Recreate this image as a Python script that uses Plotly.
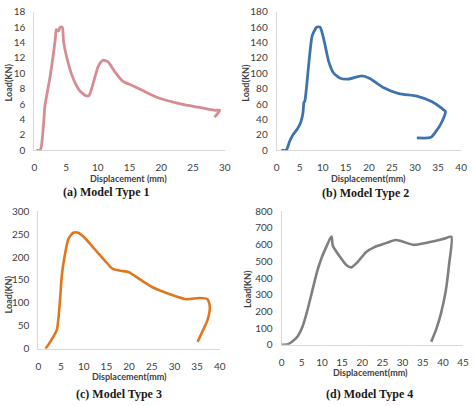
import plotly.graph_objects as go

# ---- data ----
a_x = [0.3, 0.9, 1.1, 1.3, 1.5, 1.65, 2.5, 3.3, 3.45, 3.8, 4.07, 4.4, 4.6, 5.1, 5.9, 7.1, 8.1, 8.6, 9.3, 10.1, 10.8, 11.6, 12.6, 13.9, 15.5, 17.0, 19.6, 23.2, 25.8, 28.4, 29.2, 29.0, 28.6, 28.4]
a_y = [0, 0, 0.5, 2, 4, 5.7, 9.7, 14.5, 15.7, 15.5, 16.0, 16.0, 14.1, 12.1, 9.8, 7.8, 7.1, 7.1, 8.8, 11.0, 11.7, 11.5, 10.3, 9.0, 8.4, 7.8, 6.8, 6.0, 5.6, 5.2, 5.2, 4.9, 4.5, 4.3]

b_x = [1.0, 2.06, 2.77, 3.47, 4.5, 5.2, 5.7, 5.9, 6.1, 7.0, 7.7, 8.66, 9.4, 10.2, 11.3, 12.3, 13.8, 15.5, 18.4, 20.1, 23.0, 26.5, 30.4, 33.6, 35.7, 36.6, 36.4, 35.4, 33.6, 32.8, 30.4]
b_y = [0, 0, 11, 19.6, 27.9, 36, 48.7, 62, 64, 115, 149, 160, 160, 144.6, 115, 100.8, 93.7, 92.5, 96.7, 93.7, 82, 73.7, 70.4, 63.3, 55, 50, 45, 32, 17.5, 16, 16]

c_x = [1.58, 2.3, 3.2, 4.1, 4.47, 4.83, 5.19, 5.77, 6.6, 7.7, 8.8, 10.2, 12.4, 14.6, 16.4, 18.2, 19.96, 22.5, 25.4, 29.0, 32.6, 35.5, 37.3, 37.8, 37.3, 36.2, 35.1]
c_y = [0, 10, 24, 41.5, 70, 112, 161, 200, 239, 253, 253, 242, 217.6, 193, 174, 170, 167, 150.7, 133, 119, 108, 110.6, 108, 91, 62.7, 38, 14.8]

d_x = [0, 1.6, 2.8, 4.0, 5.2, 6.4, 7.6, 8.8, 10.0, 11.2, 12.0, 12.4, 12.7, 14.5, 16.1, 17.3, 18.9, 20.9, 22.9, 25.9, 28.2, 29.8, 32.6, 33.8, 37.1, 40.3, 42.1, 41.5, 40.7, 39.5, 38.3, 37.1]
d_y = [0, 4, 23, 52, 110, 207, 323, 439, 526, 593, 636, 648, 593, 526, 477, 464, 497, 555, 584, 609, 628, 620, 599, 601, 617, 636, 647, 477, 323, 187, 91, 19]

titles = ["(a) Model Type 1", "(b) Model Type 2", "(c) Model Type 3", "(d) Model Type 4"]
xtitles = ["Displacement (mm)", "Displacement(mm)", "Displacement(mm)", "Displacement(mm)"]
ytitle = "Load(KN)"

colors = ["#d68c92", "#3f73ae", "#e0771e", "#7f7f7f"]
ranges = [([0, 30], 5, [0, 18], 2), ([0, 40], 5, [0, 180], 20),
          ([0, 40], 5, [0, 300], 50), ([0, 45], 5, [0, 800], 100)]
W, H = 474, 406
# pixel boxes: (x0, x1, ytop, ybottom)
boxes = [(32, 226, 5, 148), (279, 467, 5, 148), (36, 221, 211, 353), (284, 469, 211, 349)]
widths = [2.8, 2.8, 2.6, 2.6]

fig = go.Figure()
series = [(a_x, a_y), (b_x, b_y), (c_x, c_y), (d_x, d_y)]
for i, (xs, ys) in enumerate(series):
    n = "" if i == 0 else str(i + 1)
    fig.add_trace(go.Scatter(x=xs, y=ys, mode="lines", xaxis="x" + n, yaxis="y" + n,
                             line=dict(color=colors[i], width=widths[i], shape="spline", smoothing=0.6),
                             showlegend=False, hoverinfo="skip"))
    x0, x1, yt, yb = boxes[i]
    xr, dx, yr, dy = ranges[i]
    axcommon = dict(showgrid=False, zeroline=False, showline=True, linecolor="#d9d9d9", linewidth=1,
                    layer="below traces", ticks="outside", tickcolor="rgba(0,0,0,0)",
                    tickfont=dict(family="Lato, Open Sans, sans-serif", size=10, color="#404040"))
    fig.update_layout(**{
        "xaxis" + n: dict(domain=[x0 / W, x1 / W], range=xr, dtick=dx, tick0=0, anchor="y" + n,
                          ticklen=8, **axcommon),
        "yaxis" + n: dict(domain=[1 - yb / H, 1 - yt / H], range=yr, dtick=dy, tick0=0, anchor="x" + n,
                          ticklen=6, **axcommon),
    })

# annotations: axis titles & subplot titles
xt_pos = [(128, 177), (373, 177), (129, 382), (375, 378)]
yt_pos = [(6, 78), (247, 78), (6, 297), (249, 291)]
tt_pos = [(106, 191), (370, 192), (118, 400), (374, 400)]
anns = []
for i in range(4):
    anns.append(dict(x=xt_pos[i][0] / W, y=1 - xt_pos[i][1] / H, xref="paper", yref="paper",
                     xanchor="center", yanchor="middle",
                     text="<b>" + xtitles[i] + "</b>", showarrow=False,
                     font=dict(family="Lato, Open Sans, sans-serif", size=9, color="#404040")))
    anns.append(dict(x=yt_pos[i][0] / W, y=1 - yt_pos[i][1] / H, xref="paper", yref="paper",
                     xanchor="center", yanchor="middle",
                     text="<b>" + ytitle + "</b>", showarrow=False, textangle=-90,
                     font=dict(family="Lato, Open Sans, sans-serif", size=9, color="#404040")))
    anns.append(dict(x=tt_pos[i][0] / W, y=1 - tt_pos[i][1] / H, xref="paper", yref="paper",
                     xanchor="center", yanchor="middle",
                     text="<b>" + titles[i] + "</b>", showarrow=False,
                     font=dict(family="Liberation Serif, Times New Roman, serif", size=12, color="#1a1a1a")))

fig.update_layout(width=W, height=H, margin=dict(l=0, r=0, t=0, b=0),
                  paper_bgcolor="white", plot_bgcolor="white", annotations=anns)
fig.write_html("out.html")
